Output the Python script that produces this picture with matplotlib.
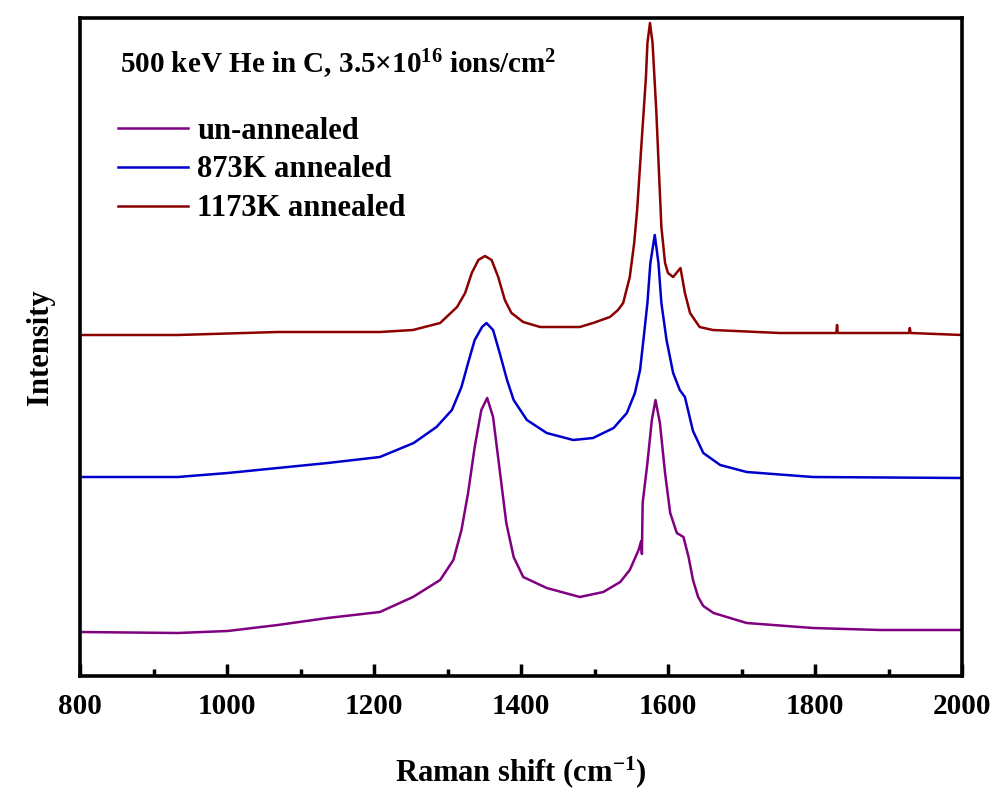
import matplotlib
matplotlib.use("Agg")
import matplotlib.pyplot as plt
import numpy as np

plt.rcParams['font.family'] = ['Liberation Serif', 'DejaVu Serif']
plt.rcParams['font.weight'] = 'bold'
plt.rcParams['mathtext.fontset'] = 'custom'
plt.rcParams['mathtext.rm'] = 'Liberation Serif:bold'
plt.rcParams['mathtext.bf'] = 'Liberation Serif:bold'
plt.rcParams['mathtext.it'] = 'Liberation Serif:bold:italic'

# ---- data (Raman shift in cm^-1, intensity in arbitrary offset units) ----
unann_x = [800, 933, 1001, 1069, 1137, 1208, 1253, 1290, 1308, 1319, 1328, 1337, 1346,
           1354, 1362, 1371, 1380, 1390, 1403, 1435, 1480, 1512, 1535, 1548, 1560,
           1563.5, 1564.5, 1565.5, 1572, 1578, 1583, 1589, 1596, 1603, 1612, 1621,
           1628, 1634, 1641, 1648, 1662, 1707, 1797, 1888, 2000]
unann_y = [44, 43, 45, 51, 58, 64, 79, 96, 116, 146, 183, 229, 266,
           278, 259, 206, 153, 119, 99, 88, 79, 84, 94, 106, 126,
           135, 122, 173, 213, 256, 276, 253, 203, 163, 143, 139,
           119, 96, 79, 70, 63, 53, 48, 46, 46]

k873_x = [800, 933, 1001, 1069, 1137, 1208, 1254, 1285, 1306, 1319, 1328, 1337, 1347,
          1353, 1362, 1371, 1381, 1390, 1408, 1435, 1471, 1498, 1526, 1544, 1555,
          1562, 1567, 1572, 1576, 1582, 1587, 1591, 1598, 1607, 1616, 1623, 1634,
          1648, 1671, 1707, 1797, 2000]
k873_y = [199, 199, 203, 208, 213, 219, 233, 249, 266, 289, 313, 336, 349,
          353, 346, 323, 296, 276, 256, 243, 236, 238, 248, 263, 283,
          306, 339, 373, 413, 441, 413, 373, 336, 303, 286, 279, 245,
          223, 211, 204, 199, 198]

k1173_x = [800, 933, 1069, 1208, 1253, 1290, 1313, 1324, 1333, 1342, 1351, 1360, 1369,
           1378, 1387, 1403, 1426, 1480, 1498, 1521, 1532, 1539, 1548, 1554, 1558,
           1564, 1570, 1572, 1575.5, 1579, 1584, 1588, 1591, 1596, 1600, 1607, 1617,
           1623, 1630, 1643, 1661, 1752, 1829, 1830, 1831, 1928, 1929, 1930, 2000]
k1173_y = [341, 341, 344, 344, 346, 353, 369, 383, 403, 416, 420, 416, 399,
           376, 363, 354, 349, 349, 353, 359, 366, 373, 399, 433, 466,
           533, 599, 633, 653, 633, 566, 499, 449, 413, 403, 399, 408,
           383, 363, 349, 346, 343, 343, 351, 343, 343, 348, 343, 341]

labels = ['un-annealed', '873K annealed', '1173K annealed']
colors = ['#800080', '#0000CD', '#8B0000']
xticks = [800, 1000, 1200, 1400, 1600, 1800, 2000]

fig = plt.figure(figsize=(10.08, 8.07), dpi=100)
ax = fig.add_axes([80/1008, 1 - 676/807, 882/1008, 658/807])

for xs, ys, lab, c in zip([unann_x, k873_x, k1173_x], [unann_y, k873_y, k1173_y], labels, colors):
    ax.plot(xs, ys, color=c, lw=1.8, label=lab)

ax.set_xlim(800, 2000)
ax.set_ylim(0, 658)
ax.set_xticks(xticks)
ax.set_xticks(np.arange(900, 2000, 200), minor=True)
ax.set_yticks([])
ax.tick_params(axis='x', which='major', direction='in', length=9, width=2.5,
               labelsize=21, pad=12, top=False)
ax.tick_params(axis='x', which='minor', direction='in', length=5, width=2.5, top=False)
for lbl in ax.get_xticklabels():
    lbl.set_fontweight('bold')
for s in ax.spines.values():
    s.set_linewidth(2.6)

ax.set_xlabel('Raman shift (cm$^{-1}$)', fontsize=22, fontweight='bold', labelpad=25)
ax.set_ylabel('Intensity', fontsize=22, fontweight='bold', labelpad=18)

ax.text(0.045, 0.930, '500 keV He in C, 3.5\u00d710$^{16}$ ions/cm$^{2}$', transform=ax.transAxes,
        fontsize=21, fontweight='bold', va='center', ha='left')

leg = ax.legend(loc='upper left', bbox_to_anchor=(0.043, 0.850), frameon=False,
                fontsize=22, handlelength=2.3, handletextpad=0.3, labelspacing=0.32,
                borderpad=0, borderaxespad=0)
for t in leg.get_texts():
    t.set_fontweight('bold')

fig.savefig('out.png', dpi=100)
